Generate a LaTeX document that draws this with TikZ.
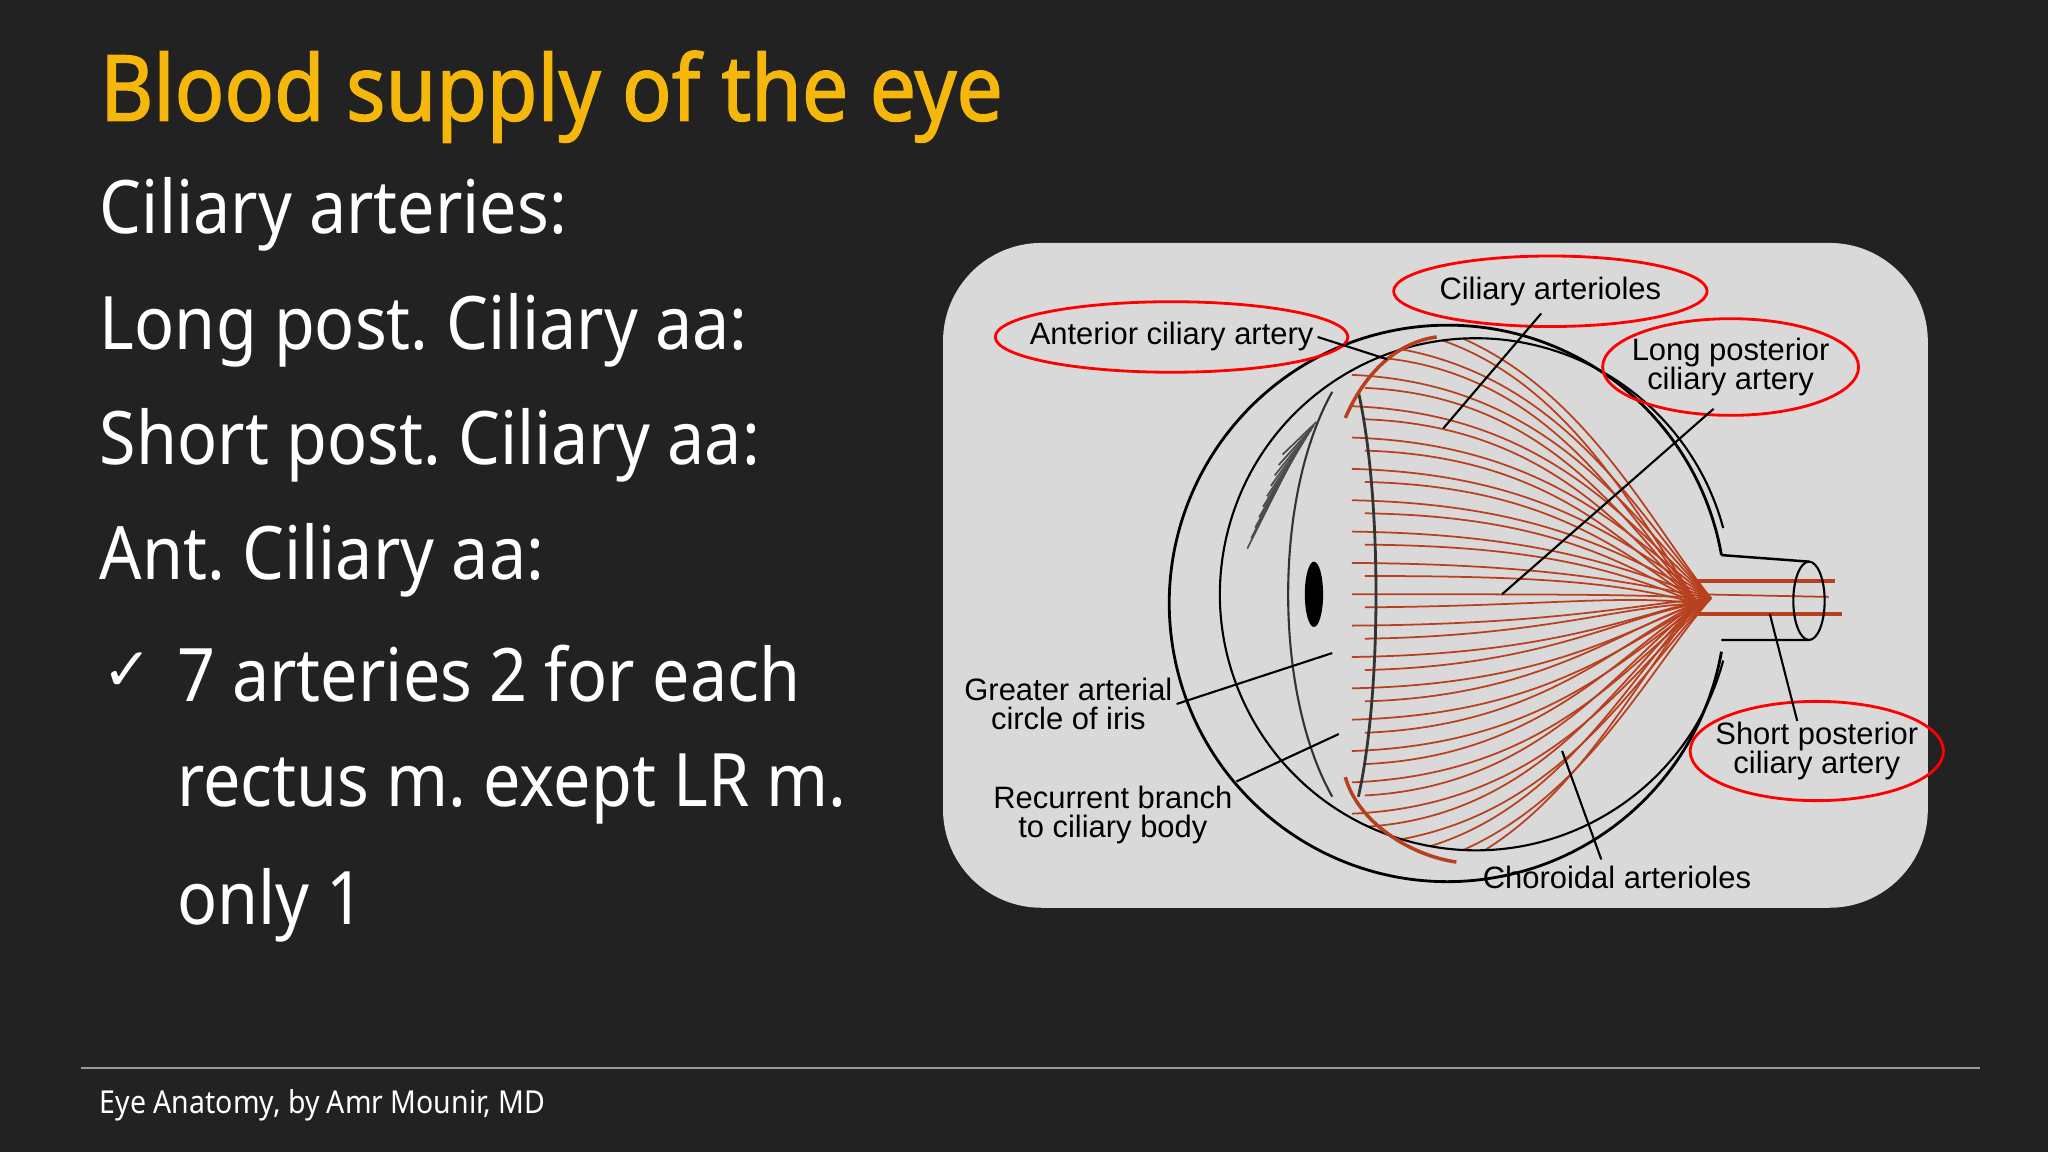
\documentclass[tikz,border=0pt]{standalone}
\usepackage{fontspec}
\setmainfont{Noto Sans}[FakeStretch=0.9]
\newfontfamily\ttlfont{Noto Sans}[FakeStretch=0.9,FakeBold=1.5]
\newfontfamily\lab{Liberation Sans}
\newfontfamily\sym{DejaVu Sans}
\definecolor{bg}{HTML}{222222}
\definecolor{ttl}{HTML}{F5B80A}
\definecolor{panel}{HTML}{D9D9D9}
\definecolor{vess}{HTML}{B8401E}
\tikzset{
 body/.style={anchor=west,text=white,font=\fontsize{21}{25}\selectfont,inner sep=0},
 lbl/.style={font=\lab\fontsize{8.8}{10.5}\selectfont,align=center,text=black,inner sep=1pt},
 ring/.style={draw=red,thick},
 lead/.style={draw=black,line width=0.6pt},
 ves/.style={draw=vess,line width=0.5pt}
}
\begin{document}
\frenchspacing
\begin{tikzpicture}[x=0.01306cm,y=-0.01306cm]
\useasboundingbox (0,0) rectangle (1568,882);
\fill[bg] (0,0) rectangle (1568,882);
\node[anchor=west,text=ttl,font=\ttlfont\fontsize{26}{30}\selectfont,inner sep=0] (title) at (76,74) {Blood supply of the eye};
\node[body] (l1) at (76,164) {Ciliary arteries:};
\node[body] (l2) at (76,253) {Long post. Ciliary aa:};
\node[body] (l3) at (76,341) {Short post. Ciliary aa:};
\node[body] (l4) at (76,429) {Ant. Ciliary aa:};
\node[body,font=\sym\fontsize{17}{20}\selectfont] (chk) at (78,514) {✓};
\node[body] (l5) at (135,516) {7 arteries 2 for each};
\node[body] (l6) at (135,604) {rectus m. exept LR m.};
\node[body] (l7) at (135,693) {only 1};
\draw[gray!80,line width=0.6pt] (62,818) -- (1516,818);
\node[anchor=west,text=white,font=\fontsize{9}{11}\selectfont,inner sep=0] (foot) at (76,846) {Eye Anatomy, by Amr Mounir, MD};
% panel
\fill[panel,rounded corners=28] (722,186) rectangle (1476,695);
% eye
\begin{scope}
\clip (1130,455) circle (196);
\foreach \i in {-9,...,9}{
  \draw[ves] (1035,455+\i*24) .. controls (1190,455+\i*23) and (1250,455+\i*8) .. (1310,458);
  \draw[ves] (1045,455+\i*24+10) .. controls (1180,455+\i*23+9) and (1240,455+\i*9) .. (1300,462);
}
\end{scope}
\draw[ves,line width=1.2pt] (1300,445) -- (1405,445);
\draw[ves,line width=1.2pt] (1300,470) -- (1410,470);
\draw[ves] (1300,455) -- (1400,457);
\draw[black,line width=0.8pt] (1318,425) arc[start angle=-10,end angle=-350,radius=213] ;
\draw[black,line width=0.6pt] (1130,455) ++(15:196) arc[start angle=15,end angle=345,radius=196];
\draw[black,line width=0.7pt] (1318,425) -- (1385,430) (1318,490) -- (1385,490);
\draw[black,line width=0.6pt] (1385,460) ellipse (12 and 30);
\draw[black!80,line width=0.8pt] (1040,300) .. controls (1058,380) and (1058,530) .. (1040,610);
\draw[black!80,line width=0.6pt] (1020,300) .. controls (975,380) and (975,530) .. (1020,610);
\foreach \k in {0,...,9}{\draw[black!70,line width=0.5pt] (955+\k*3,420-\k*8) -- (990+\k*2,350-\k*3);}
\fill[black] (1006,455) ellipse (7 and 25);
\draw[vess,line width=1pt] (1100,258) .. controls (1070,262) and (1045,285) .. (1030,320);
\draw[vess,line width=1pt] (1030,595) .. controls (1040,630) and (1080,655) .. (1115,660);
% labels
\node[lbl] (aca) at (897,258) {Anterior ciliary artery};
\draw[ring] (aca) ellipse (135 and 27);
\node[lbl] (car) at (1187,223) {Ciliary arterioles};
\draw[ring] (car) ellipse (120 and 27);
\node[lbl] (lpc) at (1325,281) {Long posterior\\[-2pt]ciliary artery};
\draw[ring] (lpc) ellipse (98 and 37);
\node[lbl] (spc) at (1391,575) {Short posterior\\[-2pt]ciliary artery};
\draw[ring] (spc) ellipse (97 and 38);
\node[lbl] (gac) at (818,539) {Greater arterial\\[-2pt]circle of iris};
\node[lbl] (rbc) at (852,624) {Recurrent branch\\[-2pt]to ciliary body};
\node[lbl] (cha) at (1238,672) {Choroidal arterioles};
\coordinate (p1) at (1062,275);
\coordinate (p2) at (1105,328);
\coordinate (p3) at (1150,455);
\coordinate (p4) at (1355,470);
\coordinate (p5) at (1020,500);
\coordinate (p6) at (1025,562);
\coordinate (p7) at (1196,575);
\draw[lead] (aca.east) -- (p1);
\draw[lead] (1180,240) -- (p2);
\draw[lead] (1312,313) -- (p3);
\draw[lead] (1376,552) -- (p4);
\draw[lead] (gac.east) -- (p5);
\draw[lead] (rbc.north east) -- (p6);
\draw[lead] (cha.north) ++(-12,-2) -- (p7);
\end{tikzpicture}
\end{document}
